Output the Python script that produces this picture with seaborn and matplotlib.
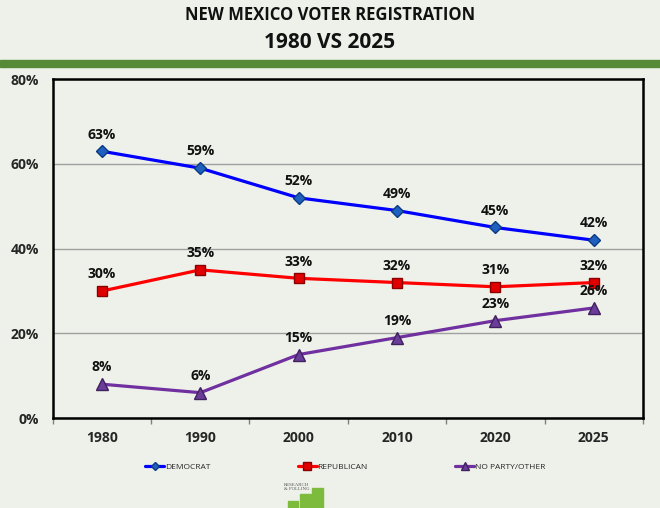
import seaborn as sns
import matplotlib.pyplot as plt
import pandas as pd
from matplotlib.patches import Rectangle

years = ['1980', '1990', '2000', '2010', '2020', '2025']
democrat = [63, 59, 52, 49, 45, 42]
republican = [30, 35, 33, 32, 31, 32]
no_party = [8, 6, 15, 19, 23, 26]
series_names = ['DEMOCRAT', 'REPUBLICAN', 'NO PARTY/OTHER']

df = pd.DataFrame({'year': years * 3,
                   'pct': democrat + republican + no_party,
                   'party': [n for n in series_names for _ in years]})

sns.set_style('white')
plt.rcParams['font.family'] = ['Open Sans', 'DejaVu Sans']

bg = '#eef1e9'
fig = plt.figure(figsize=(6.6, 5.08), dpi=100, facecolor=bg)
ax = fig.add_axes([0.080, 0.177, 0.894, 0.667])
ax.set_facecolor(bg)

line_colors = {'DEMOCRAT': '#0000ff', 'REPUBLICAN': '#ff0000', 'NO PARTY/OTHER': '#7030a0'}
marker_face = {'DEMOCRAT': '#1f5fc0', 'REPUBLICAN': '#e00000', 'NO PARTY/OTHER': '#6a3d9a'}
marker_edge = {'DEMOCRAT': '#0b3a80', 'REPUBLICAN': '#8a0000', 'NO PARTY/OTHER': '#40205e'}
markers = {'DEMOCRAT': 'D', 'REPUBLICAN': 's', 'NO PARTY/OTHER': '^'}
msize = {'DEMOCRAT': 6, 'REPUBLICAN': 7, 'NO PARTY/OTHER': 8}

for name in series_names:
    sub = df[df['party'] == name]
    sns.lineplot(data=sub, x='year', y='pct', ax=ax, color=line_colors[name], lw=2.3,
                 marker=markers[name], markersize=msize[name],
                 markerfacecolor=marker_face[name], markeredgecolor=marker_edge[name],
                 markeredgewidth=1, label=name, sort=False)
    for i, v in enumerate(sub['pct']):
        ax.annotate(f'{v}%', (i, v), xytext=(0, 7), textcoords='offset points',
                    ha='center', va='bottom', fontsize=10, fontweight='bold', color='#111111')

ax.set_xlim(-0.5, 5.5)
ax.set_ylim(0, 80)
ax.set_yticks([0, 20, 40, 60, 80])
ax.set_yticklabels([f'{t}%' for t in [0, 20, 40, 60, 80]], fontsize=10, fontweight='bold')
ax.set_xticks(range(len(years)))
ax.set_xticklabels(years, fontsize=10, fontweight='bold')
ax.set_xticks([i - 0.5 for i in range(len(years) + 1)], minor=True)
ax.tick_params(axis='x', which='major', length=0, pad=9)
ax.tick_params(axis='x', which='minor', length=4, width=1, color='#808080', direction='out',
               bottom=True)
ax.tick_params(axis='y', length=0, pad=10)
ax.yaxis.grid(True, color='#a0a0a0', lw=1)
ax.set_axisbelow(True)
ax.set_xlabel('')
ax.set_ylabel('')
for s in ax.spines.values():
    s.set_color('black')
    s.set_linewidth(1.8)

leg = ax.legend(loc='center', bbox_to_anchor=(0.523, 0.081), bbox_transform=fig.transFigure,
                ncol=3, frameon=False, fontsize=6, columnspacing=10.5, handlelength=2.3,
                handletextpad=0.05, markerscale=0.75)

# header
fig.text(0.5, 0.971, 'NEW MEXICO VOTER REGISTRATION', ha='center', va='center',
         fontsize=12, fontweight='bold', color='#111111')
fig.text(0.5, 0.916, '1980 VS 2025', ha='center', va='center',
         fontsize=15, fontweight='bold', color='#111111')
fig.patches.append(Rectangle((0, 0.868), 1, 0.0138, transform=fig.transFigure,
                             color='#578a37', zorder=5))

# small logo
for x0, h in [(0.436, 0.014), (0.455, 0.027), (0.473, 0.040)]:
    fig.patches.append(Rectangle((x0, 0), 0.016, h, transform=fig.transFigure,
                                 color='#7dbb3c', zorder=5))
fig.text(0.45, 0.042, 'RESEARCH\n& POLLING', fontsize=3.5, color='#555555',
         family=['Liberation Serif', 'DejaVu Serif'],
         ha='center', va='center', linespacing=0.9, zorder=6)

fig.savefig('out.png', dpi=100, facecolor=bg)
